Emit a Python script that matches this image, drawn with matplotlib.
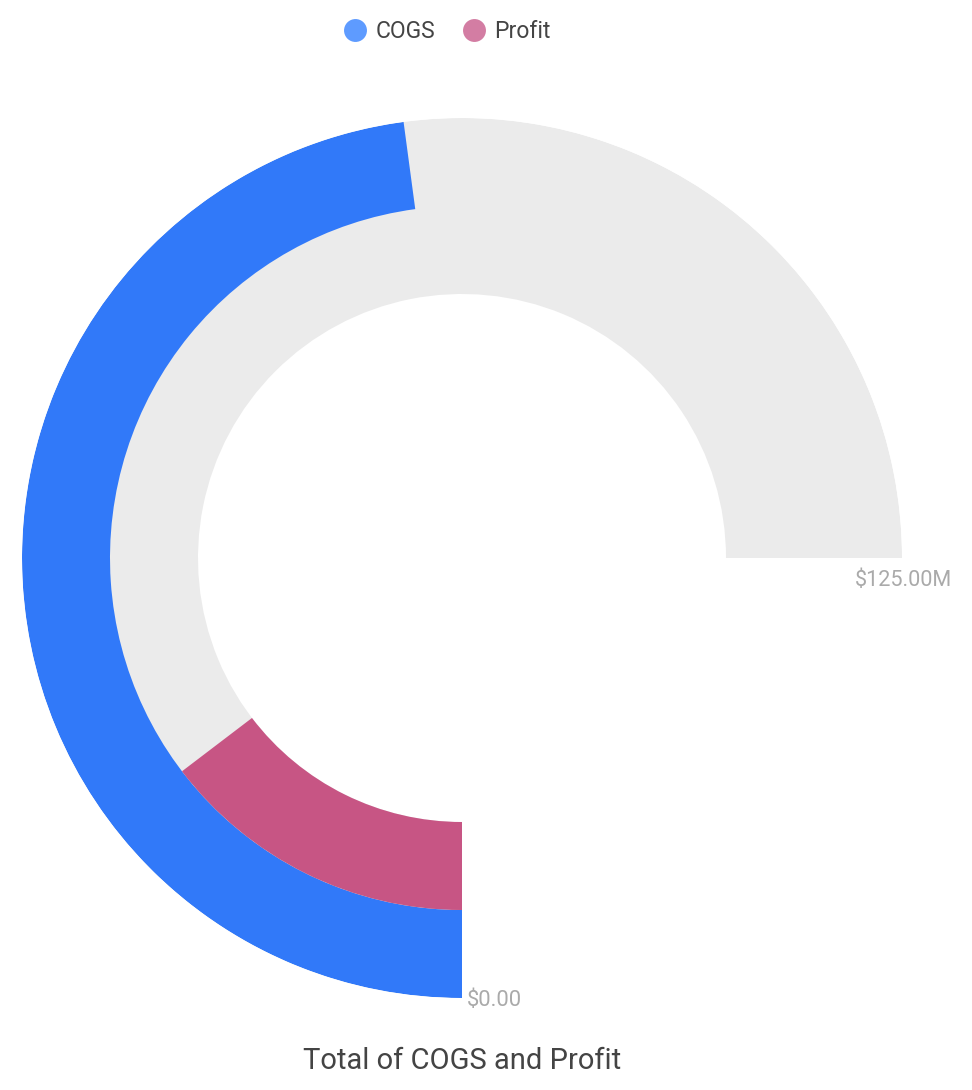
import numpy as np
import matplotlib
matplotlib.use("Agg")
import matplotlib.pyplot as plt
from matplotlib.lines import Line2D

plt.rcParams['font.family'] = ['Roboto', 'DejaVu Sans']

# Data
series = ["COGS", "Profit"]
values = [79.8, 24.4]          # $M
max_value = 125.0
bar_colors = ["#3179F9", "#C75584"]
legend_colors = ["#5E9BFF", "#D37DA3"]
title = "Total of COGS and Profit"
min_label = "$0.00"
max_label = "$125.00M"

W, H = 972, 1090
fig = plt.figure(figsize=(W / 100, H / 100), dpi=100)

cx, cy, R = 462, 558, 440
ax = fig.add_axes([(cx - R) / W, (H - cy - R) / H, 2 * R / W, 2 * R / H], projection='polar')
ax.set_theta_zero_location('S')
ax.set_theta_direction(-1)
ax.set_ylim(0, R)
ax.set_axis_off()

span = 1.5 * np.pi
ring_h = 88
ring_centers = [396, 308]

def to_theta(v):
    return v / max_value * span

# gray track (covering both rings)
ax.barh(np.mean(ring_centers), to_theta(max_value), left=0, height=2 * ring_h,
        color="#EBEBEB", edgecolor="none", align='center')
# value bars
for rc, v, c in zip(ring_centers, values, bar_colors):
    ax.barh(rc, to_theta(v), left=0, height=ring_h, color=c, edgecolor="none", align='center')

# end labels
fig.text(467 / W, 1 - 1001 / H, min_label, ha='left', va='center', fontsize=15.8, color="#AAAAAA")
fig.text(952 / W, 1 - 581 / H, max_label, ha='right', va='center', fontsize=15.6, color="#AAAAAA")

# title
fig.text(462 / W, 1 - 1061 / H, title, ha='center', va='center', fontsize=21, color="#444444")

# legend
handles = [Line2D([0], [0], marker='o', linestyle='none', markersize=16.5,
                  markerfacecolor=c, markeredgecolor='none', label=s)
           for s, c in zip(series, legend_colors)]
fig.legend(handles=handles, loc='center', bbox_to_anchor=(447 / W, 1 - 32 / H), ncol=2,
           frameon=False, fontsize=16.5, handletextpad=0.37, columnspacing=1.2,
           labelcolor="#444444", handlelength=1.0)

fig.savefig("out.png", dpi=100)
